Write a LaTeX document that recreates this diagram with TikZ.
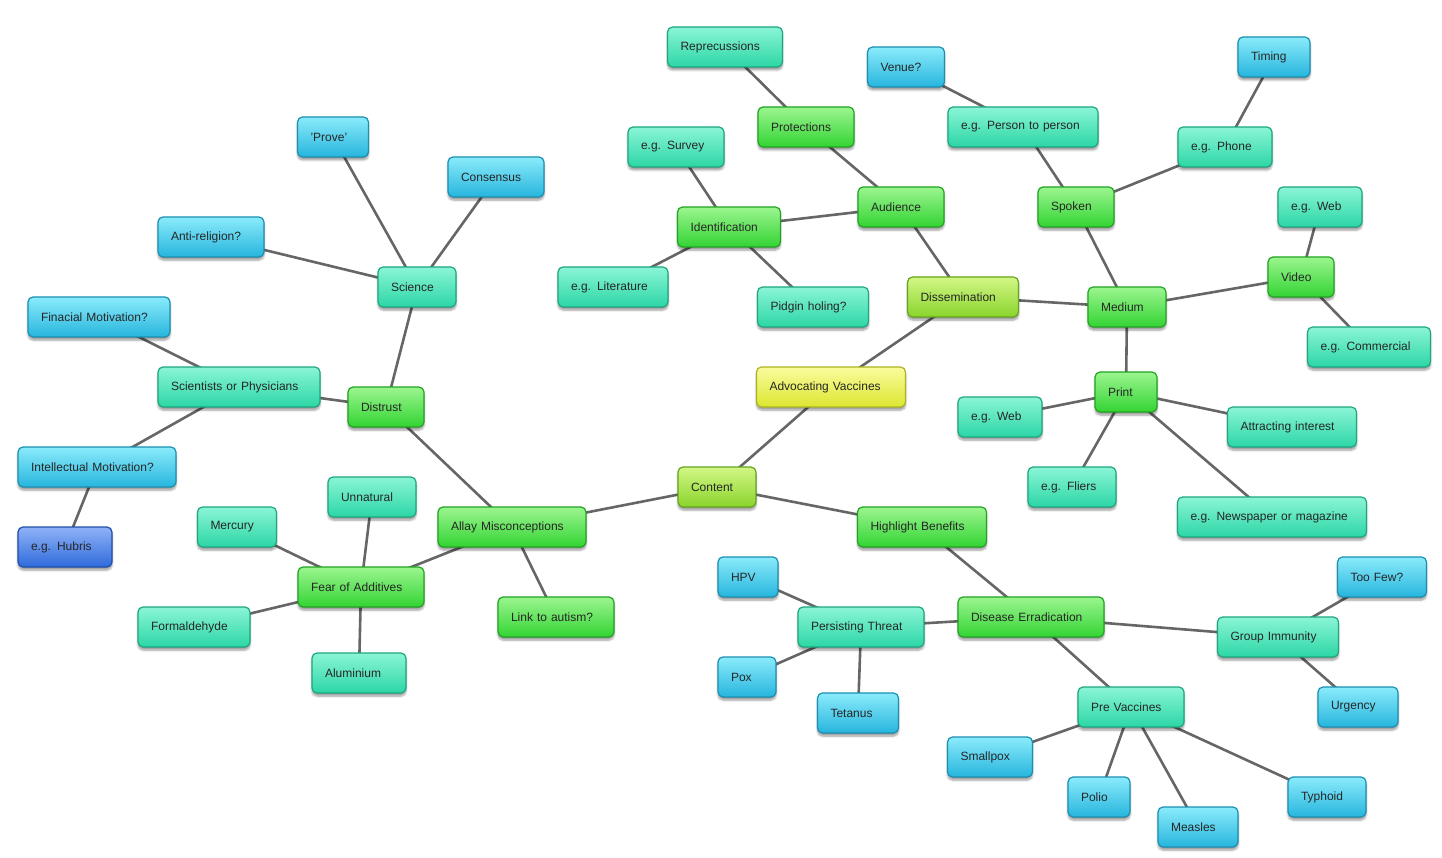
\documentclass[tikz,border=0pt]{standalone}
\usepackage{fontspec}
\setmainfont{Liberation Sans}
\usetikzlibrary{backgrounds,shadows.blur}
\definecolor{cyanT}{HTML}{8AEBFB}\definecolor{cyanB}{HTML}{27B5DD}\definecolor{cyanD}{HTML}{1A8FB0}
\definecolor{tealT}{HTML}{8AF5D6}\definecolor{tealB}{HTML}{2CD6A6}\definecolor{tealD}{HTML}{1EA67F}
\definecolor{grnT}{HTML}{9BF58F}\definecolor{grnB}{HTML}{33D433}\definecolor{grnD}{HTML}{22A322}
\definecolor{ygrT}{HTML}{D2F785}\definecolor{ygrB}{HTML}{8AD42C}\definecolor{ygrD}{HTML}{67A31E}
\definecolor{yelT}{HTML}{FAFC9E}\definecolor{yelB}{HTML}{DCE630}\definecolor{yelD}{HTML}{AAB322}
\definecolor{bluT}{HTML}{8FB2F7}\definecolor{bluB}{HTML}{2F6BDC}\definecolor{bluD}{HTML}{1F4FA8}
\tikzset{
	box/.style={rounded corners=5pt, minimum height=40pt, inner xsep=13pt, inner ysep=0pt,
			align=left, font=\fontsize{12}{14}\selectfont, text=black!85,
			line width=1.2pt, blur shadow={shadow xshift=0pt, shadow yshift=-3pt, shadow blur steps=6}},
	cyanbox/.style={box, text width=#1, draw=cyanD, top color=cyanT, bottom color=cyanB},
	tealbox/.style={box, text width=#1, draw=tealD, top color=tealT, bottom color=tealB},
	grnbox/.style={box, text width=#1, draw=grnD, top color=grnT, bottom color=grnB},
	ygrbox/.style={box, text width=#1, draw=ygrD, top color=ygrT, bottom color=ygrB},
	yelbox/.style={box, text width=#1, draw=yelD, top color=yelT, bottom color=yelB},
	blubox/.style={box, text width=#1, draw=bluD, top color=bluT, bottom color=bluB},
	link/.style={draw=black!60, line width=2.6pt}
}
\begin{document}
\begin{tikzpicture}[x=1pt,y=-1pt]
	\useasboundingbox (0,0) rectangle (1442,858);

	% centre
	\node[yelbox=123] (adv) at (831,387) {Advocating Vaccines};
	\node[ygrbox=85] (diss) at (963,297) {Dissemination};
	\node[ygrbox=52] (cont) at (717,487) {Content};

	% dissemination side
	\node[grnbox=52] (med) at (1127,307) {Medium};
	\node[grnbox=60] (aud) at (901,207) {Audience};
	\node[grnbox=70] (prot) at (806,127) {Protections};
	\node[tealbox=89] (rep) at (725,47) {Reprecussions};
	\node[grnbox=77] (ident) at (729,227) {Identification};
	\node[tealbox=70] (surv) at (676,147) {e.g. Survey};
	\node[tealbox=84] (lit) at (613,287) {e.g. Literature};
	\node[tealbox=85] (pidg) at (813,307) {Pidgin holing?};
	\node[cyanbox=51] (venue) at (906,67) {Venue?};
	\node[tealbox=124] (pers) at (1023,127) {e.g. Person to person};
	\node[grnbox=50] (spok) at (1076,207) {Spoken};
	\node[tealbox=68] (phone) at (1225,147) {e.g. Phone};
	\node[cyanbox=46] (timing) at (1274,57) {Timing};
	\node[grnbox=40] (video) at (1301,277) {Video};
	\node[tealbox=58] (webv) at (1320,207) {e.g. Web};
	\node[tealbox=97] (comm) at (1369,347) {e.g. Commercial};
	\node[grnbox=36] (print) at (1126,392) {Print};
	\node[tealbox=58] (webp) at (1000,417) {e.g. Web};
	\node[tealbox=103] (attr) at (1292,427) {Attracting interest};
	\node[tealbox=62] (fliers) at (1072,487) {e.g. Fliers};
	\node[tealbox=163] (news) at (1272,517) {e.g. Newspaper or magazine};

	% content, benefits
	\node[grnbox=103] (high) at (922,527) {Highlight Benefits};
	\node[grnbox=120] (dis) at (1031,617) {Disease Erradication};
	\node[tealbox=100] (persist) at (861,627) {Persisting Threat};
	\node[cyanbox=34] (hpv) at (748,577) {HPV};
	\node[cyanbox=32] (pox) at (747,677) {Pox};
	\node[cyanbox=55] (tet) at (858,713) {Tetanus};
	\node[tealbox=95] (group) at (1278,637) {Group Immunity};
	\node[cyanbox=63] (few) at (1382,577) {Too Few?};
	\node[cyanbox=54] (urg) at (1358,707) {Urgency};
	\node[tealbox=80] (pre) at (1131,707) {Pre Vaccines};
	\node[cyanbox=59] (small) at (990,757) {Smallpox};
	\node[cyanbox=36] (polio) at (1099,797) {Polio};
	\node[cyanbox=54] (meas) at (1198,827) {Measles};
	\node[cyanbox=52] (typh) at (1327,797) {Typhoid};

	% content, misconceptions
	\node[grnbox=122] (allay) at (512,527) {Allay Misconceptions};
	\node[grnbox=90] (autism) at (556,617) {Link to autism?};
	\node[grnbox=100] (fear) at (361,587) {Fear of Additives};
	\node[tealbox=53] (merc) at (237,527) {Mercury};
	\node[tealbox=62] (unnat) at (372,497) {Unnatural};
	\node[tealbox=86] (form) at (194,627) {Formaldehyde};
	\node[tealbox=68] (alum) at (359,673) {Aluminium};
	\node[grnbox=50] (dist) at (386,407) {Distrust};
	\node[tealbox=52] (sci) at (417,287) {Science};
	\node[cyanbox=45] (prove) at (333,137) {'Prove'};
	\node[cyanbox=70] (cons) at (496,177) {Consensus};
	\node[cyanbox=80] (anti) at (211,237) {Anti-religion?};
	\node[tealbox=136] (scip) at (239,387) {Scientists or Physicians};
	\node[cyanbox=116] (fin) at (99,317) {Finacial Motivation?};
	\node[cyanbox=132] (intel) at (97,467) {Intellectual Motivation?};
	\node[blubox=68] (hub) at (65,547) {e.g. Hubris};

	\begin{scope}[on background layer]
		\foreach \a/\b in {adv/diss,adv/cont,diss/aud,diss/med,aud/prot,prot/rep,aud/ident,
				ident/surv,ident/lit,ident/pidg,med/spok,spok/pers,pers/venue,spok/phone,phone/timing,
				med/video,video/webv,video/comm,med/print,print/webp,print/attr,print/fliers,print/news,
				cont/high,high/dis,dis/persist,persist/hpv,persist/pox,persist/tet,dis/group,group/few,
				group/urg,dis/pre,pre/small,pre/polio,pre/meas,pre/typh,cont/allay,allay/autism,
				allay/fear,fear/merc,fear/unnat,fear/form,fear/alum,allay/dist,dist/sci,sci/prove,
				sci/cons,sci/anti,dist/scip,scip/fin,scip/intel,intel/hub}
			\draw[link] (\a.center) -- (\b.center);
	\end{scope}
\end{tikzpicture}
\end{document}
